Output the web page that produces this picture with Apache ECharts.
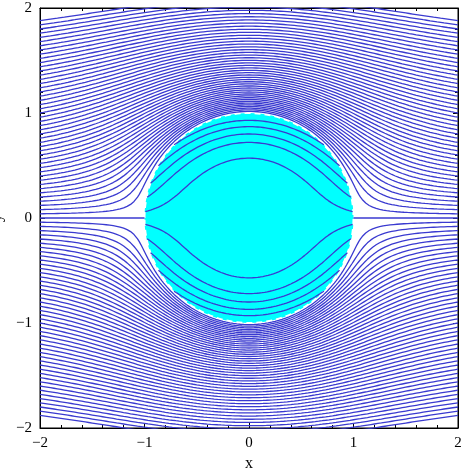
<!DOCTYPE html>
<html><head><meta charset="utf-8">
<script src="https://cdn.jsdelivr.net/npm/echarts@6/dist/echarts.min.js"></script>
<style>html,body{margin:0;padding:0;background:#fff}#c{width:474px;height:471px}</style>
</head><body><div id="c"></div>
<script>
// Outer streamline heights read at the plot edge x = ±2
const edgeHeights = [0.04,0.08,0.12,0.16,0.2,0.24,0.28,0.32,0.36,0.4,0.44,0.48,0.52,0.56,0.6,0.64,0.68,0.72,0.76,0.8,0.84,0.88,0.92,0.96,1.0,1.04,1.08,1.12,1.16,1.2,1.24,1.28,1.32,1.36,1.4,1.44,1.48,1.52,1.56,1.6,1.64,1.68,1.72,1.76,1.8,1.84,1.88];
// Inner streamline heights read at the centre x = 0
const innerCentreHeights = [0.57,0.72,0.8,0.87,0.93];
const xTicks = [-2,-1,0,1,2];
const yTicks = [-2,-1,0,1,2];

function solve(f, lo, hi){ for(let i=0;i<50;i++){const m=(lo+hi)/2; if(f(m)>0) hi=m; else lo=m;} return (lo+hi)/2; }
const series = [];
const lineStyle = {color:'#3a3ad0', width:1.3};
series.push({type:'custom', silent:true, z:1, data:[[0,0]], renderItem:(p,api)=>{
  const c=api.coord([0,0]); const s=api.size([1,1]);
  return {type:'group',children:[
   {type:'ellipse',shape:{cx:c[0],cy:c[1],rx:s[0],ry:s[1]},style:{fill:'#00ffff',stroke:null}},
   {type:'ellipse',shape:{cx:c[0],cy:c[1],rx:s[0],ry:s[1]},style:{fill:null,stroke:'#fff',lineWidth:2,lineDash:[6,4]},z2:20}
  ]};}});
function addLine(pts){
  series.push({type:'line',data:pts,showSymbol:false,silent:true,z:3,lineStyle,animation:false});
  series.push({type:'line',data:pts.map(p=>[p[0],-p[1]]),showSymbol:false,silent:true,z:3,lineStyle,animation:false});
}
const N=240;
edgeHeights.forEach(h=>{
  const c = h*(1-1/(4+h*h)); const pts=[];
  for(let i=0;i<=N;i++){const x=-2+4*i/N; const ymin=Math.sqrt(Math.max(0,1-x*x));
    const y=solve(y=>y*(1-1/(x*x+y*y))-c, ymin, 3); pts.push([x,y]);}
  addLine(pts);
});
series.push({type:'line',data:[[-2,0],[-1,0]],showSymbol:false,silent:true,z:3,lineStyle,animation:false});
series.push({type:'line',data:[[1,0],[2,0]],showSymbol:false,silent:true,z:3,lineStyle,animation:false});
innerCentreHeights.forEach(h=>{
  const c=Math.pow(h,5); const pts=[];
  for(let i=0;i<=N;i++){const x=-1+2*i/N; const ymax=Math.sqrt(Math.max(0,1-x*x));
    const y=solve(y=>y*Math.pow(x*x+y*y,2)-c,0,Math.max(ymax,1.2));
    if(y<=ymax+1e-3) pts.push([x,y]);}
  addLine(pts);
});
const font='Liberation Serif';
const fmt=v=>String(v).replace('-','\u2212');
const axisCommon = {min:-2,max:2,interval:1,
  axisLine:{show:true,onZero:false,lineStyle:{color:'#000'}},axisTick:{inside:true,length:5,lineStyle:{color:'#000'}},
  minorTick:{show:true,splitNumber:5,length:3,lineStyle:{color:'#000'}},
  splitLine:{show:false},axisLabel:{color:'#000',fontFamily:font,fontSize:15,formatter:fmt},
  nameTextStyle:{color:'#000',fontFamily:font,fontSize:16}};
const chart=echarts.init(document.getElementById('c'));
chart.setOption({animation:false,
 grid:{left:40,right:16,top:8,bottom:43,containLabel:false,outerBoundsMode:'none',show:true,borderColor:'#000',borderWidth:1},
 xAxis:[Object.assign({type:'value',name:'x',nameLocation:'middle',nameGap:24},axisCommon),
        Object.assign({type:'value',position:'top'},axisCommon,{axisLabel:{show:false}})],
 yAxis:[Object.assign({type:'value',name:'y',nameLocation:'middle',nameGap:26,nameRotate:90},axisCommon),
        Object.assign({type:'value',position:'right'},axisCommon,{axisLabel:{show:false}})],
 series});
</script></body></html>
